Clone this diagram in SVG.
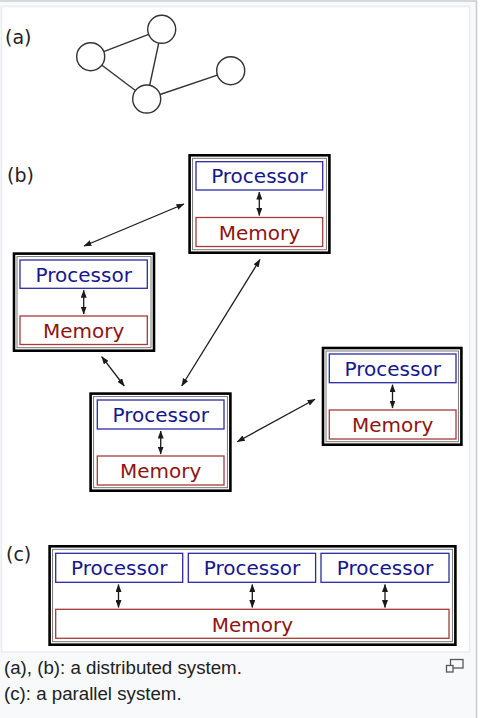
<svg xmlns="http://www.w3.org/2000/svg" width="486" height="718" viewBox="0 0 486 718">
<style>
.frame{fill:#f8f9fa;stroke:#c8ccd1;stroke-width:1.5}
.inner{fill:#ffffff;stroke:#eaecf0;stroke-width:1.5}
.lbl{font-family:"DejaVu Sans",sans-serif;font-size:19px;fill:#222222}
.nodeo{fill:#ffffff;stroke:#000000;stroke-width:2.6}
.nodei{fill:none;stroke:#6a6a6a;stroke-width:0.9}
.proc{fill:#ffffff;stroke:#2b2ba6;stroke-width:1.3}
.mem{fill:#ffffff;stroke:#a83a3a;stroke-width:1.3}
.pt{font-family:"DejaVu Sans",sans-serif;font-size:20px;fill:#16168f;text-anchor:middle}
.mt{font-family:"DejaVu Sans",sans-serif;font-size:20px;fill:#8e1414;text-anchor:middle}
.conn line{stroke:#1a1a1a;stroke-width:1.3;marker-start:url(#ah);marker-end:url(#ah)}
.link{stroke:#1a1a1a;stroke-width:1.3;marker-start:url(#ah);marker-end:url(#ah)}
.edge{stroke:#333333;stroke-width:1.4}
.circ{fill:#ffffff;stroke:#333333;stroke-width:1.4}
.cap{font-family:"Liberation Sans",Arial,sans-serif;font-size:18.7px;fill:#202122}
</style>
<defs>
<marker id="ah" viewBox="0 0 8 6" refX="7.5" refY="3" markerWidth="8" markerHeight="6" markerUnits="userSpaceOnUse" orient="auto-start-reverse">
<path d="M0,0 L8,3 L0,6 z" fill="#1a1a1a"/>
</marker>
</defs>

<rect class="frame" x="-1" y="1" width="477.5" height="720"/>
<rect class="inner" x="1.5" y="6.5" width="468" height="645.5"/>

<!-- (a) graph -->
<g id="graph-a">
<text class="lbl" x="5" y="44">(a)</text>
<g id="edges-a">
<line class="edge" x1="90.7" y1="56.7" x2="161.7" y2="29.3"/>
<line class="edge" x1="90.7" y1="56.7" x2="146.7" y2="99"/>
<line class="edge" x1="161.7" y1="29.3" x2="146.7" y2="99"/>
<line class="edge" x1="146.7" y1="99" x2="230.7" y2="70.7"/>
</g>
<circle id="va" class="circ" cx="90.7" cy="56.7" r="14"/>
<circle id="vb" class="circ" cx="161.7" cy="29.3" r="14"/>
<circle id="vc" class="circ" cx="146.7" cy="99" r="14"/>
<circle id="vd" class="circ" cx="230.7" cy="70.7" r="14"/>
</g>

<!-- (b) -->
<text class="lbl" x="7" y="182">(b)</text>

<g id="node-b1">
<rect class="nodeo" x="189.6" y="155.3" width="139.8" height="97.4"/>
<rect class="nodei" x="192.6" y="158.3" width="133.8" height="91.4"/>
<rect class="proc" x="196" y="161.7" width="126.7" height="28.3"/>
<text class="pt" x="259.3" y="183.3">Processor</text>
<rect class="mem" x="196" y="217.5" width="126.7" height="29"/>
<text class="mt" x="259.3" y="239.5">Memory</text>
<line class="link" x1="259.3" y1="192" x2="259.3" y2="215.5"/>
</g>

<g id="node-b2">
<rect class="nodeo" x="14" y="253.6" width="140" height="97.1"/>
<rect class="nodei" x="17" y="256.6" width="134" height="91.1"/>
<rect class="proc" x="20" y="260" width="127.3" height="28.3"/>
<text class="pt" x="83.7" y="281.6">Processor</text>
<rect class="mem" x="20" y="316" width="127.3" height="28.5"/>
<text class="mt" x="83.7" y="338">Memory</text>
<line class="link" x1="83.7" y1="290.3" x2="83.7" y2="314"/>
</g>

<g id="node-b3">
<rect class="nodeo" x="90.6" y="393.6" width="139.8" height="97.1"/>
<rect class="nodei" x="93.6" y="396.6" width="133.8" height="91.1"/>
<rect class="proc" x="97.3" y="400" width="126.7" height="29"/>
<text class="pt" x="160.7" y="421.8">Processor</text>
<rect class="mem" x="97.3" y="456" width="126.7" height="29"/>
<text class="mt" x="160.7" y="478">Memory</text>
<line class="link" x1="160.7" y1="431" x2="160.7" y2="454"/>
</g>

<g id="node-b4">
<rect class="nodeo" x="323" y="348" width="138.4" height="96.7"/>
<rect class="nodei" x="326" y="351" width="132.4" height="90.7"/>
<rect class="proc" x="329.3" y="354" width="126.7" height="28.7"/>
<text class="pt" x="392.7" y="375.7">Processor</text>
<rect class="mem" x="329.3" y="410" width="126.7" height="29"/>
<text class="mt" x="392.7" y="432">Memory</text>
<line class="link" x1="392.5" y1="384.7" x2="392.5" y2="408"/>
</g>

<g id="connectors" class="conn">
<line x1="84" y1="246" x2="184" y2="204"/>
<line x1="260" y1="259.5" x2="181.7" y2="386"/>
<line x1="101.7" y1="356.7" x2="124.3" y2="386"/>
<line x1="237.3" y1="441.7" x2="315" y2="399.3"/>
</g>

<!-- (c) -->
<text class="lbl" x="6" y="561">(c)</text>
<g id="node-c">
<rect class="nodeo" x="49.6" y="546.3" width="405.8" height="98.4"/>
<rect class="nodei" x="52.6" y="549.3" width="399.8" height="92.4"/>
<rect class="proc" x="55.7" y="553.3" width="127" height="29"/>
<text class="pt" x="119.2" y="575.2">Processor</text>
<rect class="proc" x="188.3" y="553.3" width="127.3" height="29"/>
<text class="pt" x="252" y="575.2">Processor</text>
<rect class="proc" x="321" y="553.3" width="128" height="29"/>
<text class="pt" x="385" y="575.2">Processor</text>
<rect class="mem" x="55.7" y="609.3" width="393.3" height="29"/>
<text class="mt" x="252.3" y="631.5">Memory</text>
<line class="link" x1="118.5" y1="584.5" x2="118.5" y2="607.5"/>
<line class="link" x1="252.3" y1="584.5" x2="252.3" y2="607.5"/>
<line class="link" x1="385" y1="584.5" x2="385" y2="607.5"/>
</g>

<!-- caption -->
<text class="cap" x="4" y="674">(a), (b): a distributed system.</text>
<text class="cap" x="4" y="699.5">(c): a parallel system.</text>
<g id="magnify" fill="none" stroke="#54595d" stroke-width="1.3">
<rect x="450.5" y="659.5" width="12.5" height="8.5" fill="#f8f9fa"/>
<rect x="446.5" y="665.5" width="6.5" height="6.5" fill="#f8f9fa"/>
</g>
</svg>
